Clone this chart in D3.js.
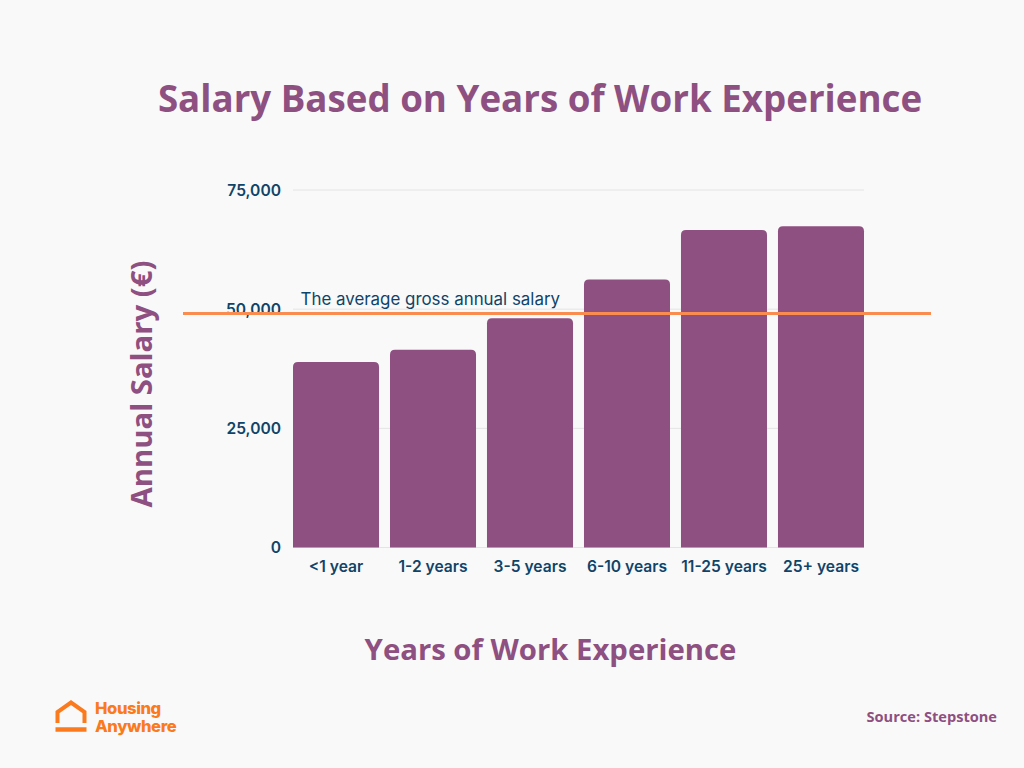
<!DOCTYPE html>
<html>
<head>
<meta charset="utf-8">
<script src="https://d3js.org/d3.v7.min.js"></script>
<style>
  html, body { margin: 0; padding: 0; background: #f9f9f9; }
  svg { display: block; }
  .title { font-family: "Open Sans"; font-weight: 700; fill: #8e4f81; }
  .tick-label { font-family: Inter; font-weight: 600; fill: #0f4469; }
</style>
</head>
<body>
<div id="chart"></div>
<script>
// values
var categories = ["<1 year", "1-2 years", "3-5 years", "6-10 years", "11-25 years", "25+ years"];
var salaries = [38900, 41500, 48100, 56200, 66600, 67400];
var yTicks = [0, 25000, 50000, 75000];
var averageSalary = [49100];

var svg = d3.select("#chart")
    .append("svg")
    .attr("width", 1024)
    .attr("height", 768);

var margin = { top: 190, left: 293, right: 160, bottom: 220.5 };

var x = d3.scaleBand()
    .domain(categories)
    .range([margin.left, 1024 - margin.right])
    .paddingInner(0.113)
    .paddingOuter(0);

var y = d3.scaleLinear()
    .domain([0, 75000])
    .range([768 - margin.bottom, margin.top]);

// gridlines
svg.append("g")
    .selectAll("line")
    .data(yTicks)
    .enter()
    .append("line")
    .attr("x1", margin.left)
    .attr("x2", 1024 - margin.right)
    .attr("y1", function (d) { return y(d); })
    .attr("y2", function (d) { return y(d); })
    .attr("stroke", "#e4e4e4")
    .attr("stroke-width", 1);

// y axis
var yAxis = svg.append("g")
    .attr("transform", "translate(" + margin.left + ",0)")
    .call(d3.axisLeft(y).tickValues(yTicks).tickSize(0).tickPadding(12).tickFormat(d3.format(",")));
yAxis.select(".domain").remove();
yAxis.selectAll("text").attr("class", "tick-label").style("font-size", "15.6px");

// bars, rounded on top only
svg.append("g")
    .selectAll("path")
    .data(salaries)
    .enter()
    .append("path")
    .attr("fill", "#8e4f81")
    .attr("d", function (d, i) {
        var r = 5, x0 = x(categories[i]), x1 = x0 + x.bandwidth(), top = y(d), bot = y(0);
        return "M" + x0 + "," + bot + "V" + (top + r) + "Q" + x0 + "," + top + " " + (x0 + r) + "," + top +
            "H" + (x1 - r) + "Q" + x1 + "," + top + " " + x1 + "," + (top + r) + "V" + bot + "Z";
    });

// x axis
var xAxis = svg.append("g")
    .attr("transform", "translate(0," + y(0) + ")")
    .call(d3.axisBottom(x).tickSize(0).tickPadding(13));
xAxis.select(".domain").remove();
xAxis.selectAll("text").attr("class", "tick-label").style("font-size", "15.6px");

// average line
svg.selectAll(".avg")
    .data(averageSalary)
    .enter()
    .append("line")
    .attr("class", "avg")
    .attr("x1", 183)
    .attr("x2", 931)
    .attr("y1", function (d) { return y(d); })
    .attr("y2", function (d) { return y(d); })
    .attr("stroke", "#fb8c50")
    .attr("stroke-width", 3);

svg.append("text")
    .attr("x", 300.5)
    .attr("y", 305)
    .style("font-family", "Inter")
    .style("font-size", "16.9px")
    .style("fill", "#0f4469")
    .text("The average gross annual salary");

// titles
svg.append("text")
    .attr("class", "title")
    .attr("x", 540)
    .attr("y", 111.5)
    .attr("text-anchor", "middle")
    .style("font-size", "36.7px")
    .text("Salary Based on Years of Work Experience");

svg.append("text")
    .attr("class", "title")
    .attr("x", 550.5)
    .attr("y", 660)
    .attr("text-anchor", "middle")
    .style("font-size", "29.3px")
    .text("Years of Work Experience");

svg.append("text")
    .attr("class", "title")
    .attr("transform", "translate(152,384)rotate(-90)")
    .attr("text-anchor", "middle")
    .style("font-size", "29.3px")
    .text("Annual Salary (€)");

svg.append("text")
    .attr("class", "title")
    .attr("x", 997)
    .attr("y", 722)
    .attr("text-anchor", "end")
    .style("font-size", "14.6px")
    .text("Source: Stepstone");

// logo
var logo = svg.append("g").attr("fill", "none").attr("stroke", "#fb7a1e");
logo.append("path")
    .attr("d", "M57.5,723V712L71,702.5L84.5,712V723")
    .attr("stroke-width", 4)
    .attr("stroke-linejoin", "miter");
logo.append("path")
    .attr("d", "M55.5,729.5H86.5")
    .attr("stroke-width", 4.5);

svg.append("g")
    .selectAll("text")
    .data(["Housing", "Anywhere"])
    .enter()
    .append("text")
    .attr("x", 95)
    .attr("y", function (d, i) { return 714 + i * 18; })
    .style("font-family", "Inter")
    .style("font-weight", "800")
    .style("font-size", "16.6px")
    .style("letter-spacing", "-0.4px")
    .style("fill", "#fb7a1e")
    .text(function (d) { return d; });
</script>
</body>
</html>
